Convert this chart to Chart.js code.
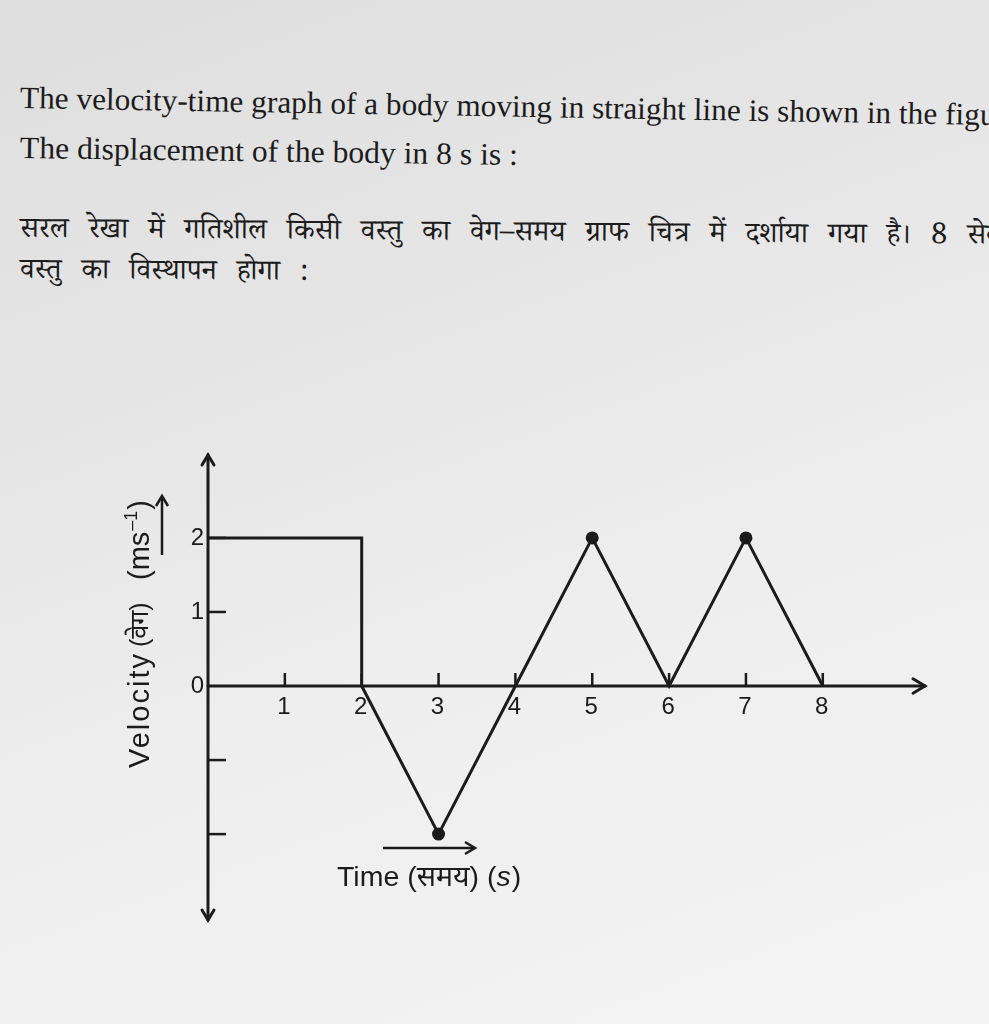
<!DOCTYPE html>
<html>
<head>
<meta charset="utf-8">
<script src="https://cdn.jsdelivr.net/npm/chart.js@4.4.0/dist/chart.umd.min.js"></script>
<style>
  html, body { margin: 0; padding: 0; width: 989px; height: 1024px; overflow: hidden; }
  body { background: linear-gradient(160deg, #dedede 0%, #e6e6e6 35%, #eeeeee 60%, #f4f4f4 100%); position: relative; }
  #chartBox { position: absolute; left: 0; top: 0; width: 989px; height: 1024px; }
  .q { position: absolute; left: 20px; white-space: nowrap; color: #1c1c1c; transform-origin: 0 50%; }
  .en { font-family: "Liberation Serif", "DejaVu Serif", serif; font-size: 31px; }
  .hi { font-family: "Noto Serif Devanagari", "Noto Sans Devanagari", "Lohit Devanagari", "Noto Sans", sans-serif; font-size: 29px; word-spacing: 2.5px; }
</style>
</head>
<body>
<div class="q en" style="top:80px; transform: rotate(1deg) scaleX(1.01);">The velocity-time graph of a body moving in straight line is shown in the figure.</div>
<div class="q en" style="top:130px; transform: rotate(0.8deg) scaleX(1.02);">The displacement of the body in 8 s is :</div>
<div class="q hi" style="top:210px; transform: rotate(0.4deg);">सरल &nbsp;रेखा &nbsp;में &nbsp;गतिशील &nbsp;किसी &nbsp;वस्तु &nbsp;का &nbsp;वेग–समय &nbsp;ग्राफ &nbsp;चित्र &nbsp;में &nbsp;दर्शाया &nbsp;गया &nbsp;है। &nbsp;8 &nbsp;सेकण्ड में</div>
<div class="q hi" style="top:251px; transform: rotate(0.4deg);">वस्तु &nbsp;का &nbsp;विस्थापन &nbsp;होगा &nbsp;:</div>
<div id="chartBox"><canvas id="vtChart"></canvas></div>
<script>
// velocity-time data
const times = [0, 2, 2, 3, 4, 5, 6, 7, 8];
const velocities = [2, 2, 0, -2, 0, 2, 0, 2, 0];
const dotTimes = [3, 5, 7];

const xTickValues = [1, 2, 3, 4, 5, 6, 7, 8];
const xTickLabels = ['1', '2', '3', '4', '5', '6', '7', '8'];
const yTickValues = [2, 1, 0, -1, -2];
const yTickLabels = ['2', '1', '0', '', ''];

// axis titles, split where the font changes
const yTitleParts = ['Velocity', '(वेग)', '(ms', '–1', ')'];
const xTitleParts = ['Time (समय) (', 's', ')'];

const ink = '#1b1b1b';
const sans = '"Liberation Sans", Arial, "Noto Sans Devanagari", sans-serif';

const arrowHead = (ctx, x, y, dir, size) => {
    // dir: angle the arrow points to
    ctx.save();
    ctx.translate(x, y);
    ctx.rotate(dir);
    ctx.beginPath();
    ctx.moveTo(-size, -size * 0.6);
    ctx.lineTo(0, 0);
    ctx.lineTo(-size, size * 0.6);
    ctx.stroke();
    ctx.restore();
};

const axesPlugin = {
    id: 'axesPlugin',
    beforeDatasetsDraw(chart) {
        const { ctx, chartArea, scales } = chart;
        const xs = scales.x, ys = scales.y;
        const x0 = xs.getPixelForValue(0);
        const y0 = ys.getPixelForValue(0);
        ctx.save();
        ctx.strokeStyle = ink;
        ctx.fillStyle = ink;
        ctx.lineWidth = 3;
        ctx.lineCap = 'round';

        // y axis, arrows at both ends
        ctx.beginPath();
        ctx.moveTo(x0, chartArea.top);
        ctx.lineTo(x0, chartArea.bottom);
        ctx.stroke();
        arrowHead(ctx, x0, chartArea.top, -Math.PI / 2, 10);
        arrowHead(ctx, x0, chartArea.bottom, Math.PI / 2, 10);

        // x axis, arrow at right
        ctx.beginPath();
        ctx.moveTo(x0, y0);
        ctx.lineTo(chartArea.right, y0);
        ctx.stroke();
        arrowHead(ctx, chartArea.right, y0, 0, 12);

        // tick marks
        ctx.lineWidth = 2.5;
        ctx.lineCap = 'butt';
        xTickValues.forEach(v => {
            const px = xs.getPixelForValue(v);
            ctx.beginPath();
            ctx.moveTo(px, y0);
            ctx.lineTo(px, y0 - 13);
            ctx.stroke();
        });
        yTickValues.forEach(v => {
            if (v === 0) return;
            const py = ys.getPixelForValue(v);
            ctx.beginPath();
            ctx.moveTo(x0, py);
            ctx.lineTo(x0 + 18, py);
            ctx.stroke();
        });

        // tick labels
        ctx.font = '24px ' + sans;
        ctx.textAlign = 'center';
        ctx.textBaseline = 'top';
        xTickValues.forEach((v, i) => {
            ctx.fillText(xTickLabels[i], xs.getPixelForValue(v) - 1, y0 + 9);
        });
        ctx.textAlign = 'right';
        ctx.textBaseline = 'middle';
        yTickValues.forEach((v, i) => {
            if (!yTickLabels[i]) return;
            ctx.fillText(yTickLabels[i], x0 - 4, ys.getPixelForValue(v));
        });

        // x title with arrow above it
        ctx.lineWidth = 2.5;
        ctx.beginPath();
        ctx.moveTo(383, 848);
        ctx.lineTo(474, 848);
        ctx.stroke();
        arrowHead(ctx, 475, 848, 0, 10);
        ctx.textAlign = 'left';
        ctx.textBaseline = 'middle';
        let tx = 337;
        ctx.font = '28.5px ' + sans;
        ctx.fillText(xTitleParts[0], tx, 878);
        tx += ctx.measureText(xTitleParts[0]).width;
        ctx.font = 'italic 28.5px ' + sans;
        ctx.fillText(xTitleParts[1], tx, 878);
        tx += ctx.measureText(xTitleParts[1]).width + 1;
        ctx.font = '28.5px ' + sans;
        ctx.fillText(xTitleParts[2], tx, 878);

        // y title, rotated (reads bottom to top), with superscript
        ctx.save();
        ctx.translate(141, 768);
        ctx.rotate(-Math.PI / 2);
        ctx.textAlign = 'left';
        ctx.textBaseline = 'middle';
        ctx.font = '29px ' + sans;
        ctx.letterSpacing = '2px';
        ctx.fillText(yTitleParts[0], 0, 0);
        ctx.letterSpacing = '0px';
        ctx.font = '25px ' + sans;
        ctx.fillText(yTitleParts[1], 121, 0);
        let ty = 188;
        ctx.font = '29px ' + sans;
        ctx.fillText(yTitleParts[2], ty, 0);
        ty += ctx.measureText(yTitleParts[2]).width + 1;
        ctx.font = '18px ' + sans;
        ctx.fillText(yTitleParts[3], ty, -9);
        ty += ctx.measureText(yTitleParts[3]).width + 1;
        ctx.font = '29px ' + sans;
        ctx.fillText(yTitleParts[4], ty, 0);
        ctx.restore();
        ctx.beginPath();
        ctx.moveTo(162, 555);
        ctx.lineTo(162, 497);
        ctx.stroke();
        arrowHead(ctx, 162, 496, -Math.PI / 2, 10);

        ctx.restore();
    }
};

const vtChart = new Chart(document.getElementById('vtChart'), {
    type: 'scatter',
    data: {
        datasets: [{
            label: 'Velocity',
            data: times.map((t, i) => ({ x: t, y: velocities[i] })),
            showLine: true,
            borderColor: ink,
            backgroundColor: ink,
            borderWidth: 3,
            tension: 0,
            clip: false,
            pointRadius: c => (c.raw && dotTimes.includes(c.raw.x) && c.raw.y !== 0 ? 5 : 0),
            pointHoverRadius: 0,
        }]
    },
    options: {
        responsive: true,
        maintainAspectRatio: false,
        animation: false,
        events: [],
        layout: {
            padding: { left: 208, right: 64, top: 455, bottom: 104 }
        },
        plugins: {
            legend: { display: false },
            tooltip: { enabled: false },
            title: { display: false }
        },
        scales: {
            x: { type: 'linear', min: 0, max: 9.33, display: false },
            y: { type: 'linear', min: -3.16, max: 3.12, display: false }
        }
    },
    plugins: [axesPlugin]
});
</script>
</body>
</html>
